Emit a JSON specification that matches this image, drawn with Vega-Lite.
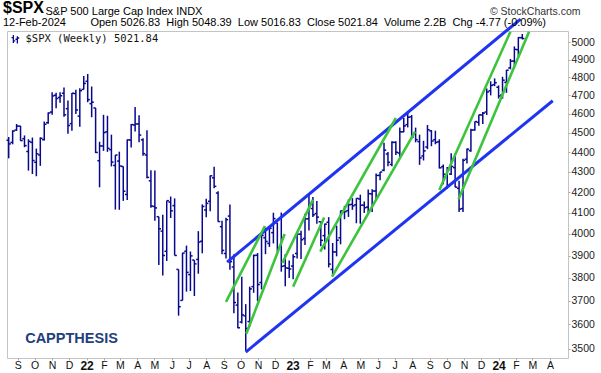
{
  "$schema": "https://vega.github.io/schema/vega-lite/v6.json",
  "width": 561,
  "height": 327,
  "autosize": {"type": "none"},
  "padding": {"left": 7, "top": 31, "right": 33, "bottom": 15},
  "background": "white",
  "config": {"font": "Liberation Sans", "view": {"stroke": "#c4c4c4", "strokeWidth": 1}},
  "title": {
    "text": "$SPX",
    "subtitle": "12-Feb-2024\u00a0\u00a0\u00a0\u00a0\u00a0\u00a0\u00a0\u00a0Open 5026.83\u00a0\u00a0High 5048.39\u00a0\u00a0Low 5016.83\u00a0\u00a0Close 5021.84\u00a0\u00a0Volume 2.2B\u00a0\u00a0Chg -4.77 (-0.09%)",
    "anchor": "start",
    "frame": "group",
    "dx": -4,
    "offset": -23,
    "font": "Liberation Sans",
    "fontSize": 16,
    "fontWeight": "bold",
    "color": "#000000",
    "subtitleFont": "Liberation Sans",
    "subtitleFontSize": 11,
    "subtitleColor": "#000000",
    "subtitlePadding": 1
  },
  "datasets": {
    "spx": [
      {"d": "2021-08-16", "o": 4461, "h": 4478, "l": 4368, "c": 4442},
      {"d": "2021-08-23", "o": 4450, "h": 4513, "l": 4440, "c": 4509},
      {"d": "2021-08-30", "o": 4514, "h": 4546, "l": 4510, "c": 4535},
      {"d": "2021-09-06", "o": 4535, "h": 4536, "l": 4458, "c": 4459},
      {"d": "2021-09-13", "o": 4469, "h": 4486, "l": 4425, "c": 4433},
      {"d": "2021-09-20", "o": 4403, "h": 4466, "l": 4306, "c": 4455},
      {"d": "2021-09-27", "o": 4450, "h": 4475, "l": 4289, "c": 4357},
      {"d": "2021-10-04", "o": 4348, "h": 4418, "l": 4278, "c": 4391},
      {"d": "2021-10-11", "o": 4385, "h": 4476, "l": 4330, "c": 4471},
      {"d": "2021-10-18", "o": 4464, "h": 4559, "l": 4459, "c": 4545},
      {"d": "2021-10-25", "o": 4553, "h": 4608, "l": 4547, "c": 4605},
      {"d": "2021-11-01", "o": 4610, "h": 4718, "l": 4596, "c": 4697},
      {"d": "2021-11-08", "o": 4701, "h": 4714, "l": 4630, "c": 4683},
      {"d": "2021-11-15", "o": 4689, "h": 4718, "l": 4660, "c": 4698},
      {"d": "2021-11-22", "o": 4712, "h": 4744, "l": 4585, "c": 4595},
      {"d": "2021-11-29", "o": 4628, "h": 4672, "l": 4495, "c": 4538},
      {"d": "2021-12-06", "o": 4548, "h": 4713, "l": 4510, "c": 4712},
      {"d": "2021-12-13", "o": 4710, "h": 4731, "l": 4600, "c": 4621},
      {"d": "2021-12-20", "o": 4588, "h": 4740, "l": 4531, "c": 4726},
      {"d": "2021-12-27", "o": 4733, "h": 4808, "l": 4733, "c": 4766},
      {"d": "2022-01-03", "o": 4778, "h": 4819, "l": 4663, "c": 4677},
      {"d": "2022-01-10", "o": 4655, "h": 4749, "l": 4582, "c": 4663},
      {"d": "2022-01-17", "o": 4632, "h": 4632, "l": 4395, "c": 4398},
      {"d": "2022-01-24", "o": 4356, "h": 4453, "l": 4223, "c": 4432},
      {"d": "2022-01-31", "o": 4431, "h": 4595, "l": 4406, "c": 4501},
      {"d": "2022-02-07", "o": 4505, "h": 4590, "l": 4401, "c": 4419},
      {"d": "2022-02-14", "o": 4412, "h": 4490, "l": 4327, "c": 4349},
      {"d": "2022-02-21", "o": 4332, "h": 4385, "l": 4115, "c": 4385},
      {"d": "2022-02-28", "o": 4354, "h": 4402, "l": 4114, "c": 4329},
      {"d": "2022-03-07", "o": 4327, "h": 4327, "l": 4157, "c": 4204},
      {"d": "2022-03-14", "o": 4188, "h": 4465, "l": 4161, "c": 4463},
      {"d": "2022-03-21", "o": 4462, "h": 4546, "l": 4424, "c": 4543},
      {"d": "2022-03-28", "o": 4541, "h": 4637, "l": 4507, "c": 4546},
      {"d": "2022-04-04", "o": 4547, "h": 4593, "l": 4451, "c": 4488},
      {"d": "2022-04-11", "o": 4463, "h": 4471, "l": 4381, "c": 4392},
      {"d": "2022-04-18", "o": 4385, "h": 4513, "l": 4268, "c": 4272},
      {"d": "2022-04-25", "o": 4255, "h": 4308, "l": 4124, "c": 4132},
      {"d": "2022-05-02", "o": 4130, "h": 4307, "l": 4062, "c": 4123},
      {"d": "2022-05-09", "o": 4081, "h": 4081, "l": 3858, "c": 4024},
      {"d": "2022-05-16", "o": 4013, "h": 4090, "l": 3811, "c": 3901},
      {"d": "2022-05-23", "o": 3920, "h": 4158, "l": 3876, "c": 4158},
      {"d": "2022-05-30", "o": 4151, "h": 4178, "l": 4075, "c": 4109},
      {"d": "2022-06-06", "o": 4134, "h": 4169, "l": 3901, "c": 3901},
      {"d": "2022-06-13", "o": 3838, "h": 3838, "l": 3637, "c": 3675},
      {"d": "2022-06-20", "o": 3702, "h": 3913, "l": 3702, "c": 3912},
      {"d": "2022-06-27", "o": 3920, "h": 3946, "l": 3740, "c": 3825},
      {"d": "2022-07-04", "o": 3815, "h": 3919, "l": 3743, "c": 3899},
      {"d": "2022-07-11", "o": 3880, "h": 3880, "l": 3721, "c": 3863},
      {"d": "2022-07-18", "o": 3883, "h": 4013, "l": 3819, "c": 3962},
      {"d": "2022-07-25", "o": 3966, "h": 4140, "l": 3911, "c": 4130},
      {"d": "2022-08-01", "o": 4113, "h": 4167, "l": 4079, "c": 4145},
      {"d": "2022-08-08", "o": 4155, "h": 4281, "l": 4107, "c": 4280},
      {"d": "2022-08-15", "o": 4270, "h": 4325, "l": 4218, "c": 4228},
      {"d": "2022-08-22", "o": 4195, "h": 4204, "l": 4057, "c": 4058},
      {"d": "2022-08-29", "o": 4034, "h": 4062, "l": 3906, "c": 3924},
      {"d": "2022-09-05", "o": 3910, "h": 4076, "l": 3887, "c": 4067},
      {"d": "2022-09-12", "o": 4084, "h": 4140, "l": 3837, "c": 3873},
      {"d": "2022-09-19", "o": 3849, "h": 3907, "l": 3647, "c": 3693},
      {"d": "2022-09-26", "o": 3682, "h": 3736, "l": 3584, "c": 3586},
      {"d": "2022-10-03", "o": 3610, "h": 3806, "l": 3604, "c": 3640},
      {"d": "2022-10-10", "o": 3636, "h": 3686, "l": 3491, "c": 3583},
      {"d": "2022-10-17", "o": 3612, "h": 3762, "l": 3591, "c": 3752},
      {"d": "2022-10-24", "o": 3762, "h": 3905, "l": 3735, "c": 3901},
      {"d": "2022-10-31", "o": 3902, "h": 3912, "l": 3699, "c": 3771},
      {"d": "2022-11-07", "o": 3780, "h": 4000, "l": 3750, "c": 3993},
      {"d": "2022-11-14", "o": 3982, "h": 4029, "l": 3907, "c": 3965},
      {"d": "2022-11-21", "o": 3956, "h": 4034, "l": 3940, "c": 4026},
      {"d": "2022-11-28", "o": 4006, "h": 4100, "l": 3956, "c": 4072},
      {"d": "2022-12-05", "o": 4052, "h": 4052, "l": 3918, "c": 3934},
      {"d": "2022-12-12", "o": 3940, "h": 4101, "l": 3828, "c": 3852},
      {"d": "2022-12-19", "o": 3854, "h": 3906, "l": 3764, "c": 3845},
      {"d": "2022-12-26", "o": 3843, "h": 3878, "l": 3800, "c": 3840},
      {"d": "2023-01-02", "o": 3853, "h": 3907, "l": 3794, "c": 3895},
      {"d": "2023-01-09", "o": 3910, "h": 4003, "l": 3887, "c": 3999},
      {"d": "2023-01-16", "o": 3999, "h": 4015, "l": 3885, "c": 3973},
      {"d": "2023-01-23", "o": 3979, "h": 4095, "l": 3949, "c": 4071},
      {"d": "2023-01-30", "o": 4071, "h": 4195, "l": 4016, "c": 4136},
      {"d": "2023-02-06", "o": 4120, "h": 4176, "l": 4080, "c": 4090},
      {"d": "2023-02-13", "o": 4096, "h": 4156, "l": 4048, "c": 4079},
      {"d": "2023-02-20", "o": 4057, "h": 4057, "l": 3943, "c": 3970},
      {"d": "2023-02-27", "o": 3992, "h": 4048, "l": 3928, "c": 4046},
      {"d": "2023-03-06", "o": 4055, "h": 4079, "l": 3847, "c": 3862},
      {"d": "2023-03-13", "o": 3838, "h": 3958, "l": 3808, "c": 3917},
      {"d": "2023-03-20", "o": 3917, "h": 4039, "l": 3897, "c": 3971},
      {"d": "2023-03-27", "o": 3982, "h": 4110, "l": 3952, "c": 4109},
      {"d": "2023-04-03", "o": 4102, "h": 4133, "l": 4069, "c": 4105},
      {"d": "2023-04-10", "o": 4110, "h": 4164, "l": 4080, "c": 4138},
      {"d": "2023-04-17", "o": 4140, "h": 4170, "l": 4114, "c": 4133},
      {"d": "2023-04-24", "o": 4138, "h": 4170, "l": 4050, "c": 4169},
      {"d": "2023-05-01", "o": 4166, "h": 4187, "l": 4048, "c": 4136},
      {"d": "2023-05-08", "o": 4136, "h": 4154, "l": 4099, "c": 4124},
      {"d": "2023-05-15", "o": 4127, "h": 4212, "l": 4099, "c": 4192},
      {"d": "2023-05-22", "o": 4191, "h": 4213, "l": 4103, "c": 4205},
      {"d": "2023-05-29", "o": 4205, "h": 4291, "l": 4166, "c": 4282},
      {"d": "2023-06-05", "o": 4282, "h": 4299, "l": 4258, "c": 4299},
      {"d": "2023-06-12", "o": 4308, "h": 4448, "l": 4303, "c": 4410},
      {"d": "2023-06-19", "o": 4390, "h": 4400, "l": 4328, "c": 4348},
      {"d": "2023-06-26", "o": 4337, "h": 4456, "l": 4328, "c": 4450},
      {"d": "2023-07-03", "o": 4450, "h": 4456, "l": 4385, "c": 4399},
      {"d": "2023-07-10", "o": 4395, "h": 4528, "l": 4371, "c": 4505},
      {"d": "2023-07-17", "o": 4505, "h": 4578, "l": 4503, "c": 4536},
      {"d": "2023-07-24", "o": 4543, "h": 4607, "l": 4528, "c": 4582},
      {"d": "2023-07-31", "o": 4584, "h": 4594, "l": 4468, "c": 4478},
      {"d": "2023-08-07", "o": 4492, "h": 4527, "l": 4450, "c": 4464},
      {"d": "2023-08-14", "o": 4454, "h": 4490, "l": 4335, "c": 4370},
      {"d": "2023-08-21", "o": 4380, "h": 4458, "l": 4357, "c": 4406},
      {"d": "2023-08-28", "o": 4426, "h": 4541, "l": 4415, "c": 4516},
      {"d": "2023-09-04", "o": 4510, "h": 4514, "l": 4430, "c": 4457},
      {"d": "2023-09-11", "o": 4464, "h": 4511, "l": 4440, "c": 4450},
      {"d": "2023-09-18", "o": 4453, "h": 4466, "l": 4317, "c": 4320},
      {"d": "2023-09-25", "o": 4326, "h": 4337, "l": 4238, "c": 4288},
      {"d": "2023-10-02", "o": 4284, "h": 4324, "l": 4216, "c": 4309},
      {"d": "2023-10-09", "o": 4289, "h": 4394, "l": 4284, "c": 4327},
      {"d": "2023-10-16", "o": 4321, "h": 4393, "l": 4223, "c": 4224},
      {"d": "2023-10-23", "o": 4218, "h": 4256, "l": 4104, "c": 4117},
      {"d": "2023-10-30", "o": 4120, "h": 4366, "l": 4104, "c": 4358},
      {"d": "2023-11-06", "o": 4364, "h": 4418, "l": 4342, "c": 4415},
      {"d": "2023-11-13", "o": 4407, "h": 4521, "l": 4402, "c": 4514},
      {"d": "2023-11-20", "o": 4515, "h": 4560, "l": 4511, "c": 4559},
      {"d": "2023-11-27", "o": 4555, "h": 4595, "l": 4537, "c": 4595},
      {"d": "2023-12-04", "o": 4594, "h": 4610, "l": 4546, "c": 4604},
      {"d": "2023-12-11", "o": 4610, "h": 4738, "l": 4594, "c": 4719},
      {"d": "2023-12-18", "o": 4725, "h": 4778, "l": 4700, "c": 4755},
      {"d": "2023-12-25", "o": 4759, "h": 4794, "l": 4751, "c": 4770},
      {"d": "2024-01-01", "o": 4745, "h": 4755, "l": 4683, "c": 4697},
      {"d": "2024-01-08", "o": 4703, "h": 4803, "l": 4682, "c": 4784},
      {"d": "2024-01-15", "o": 4772, "h": 4842, "l": 4714, "c": 4840},
      {"d": "2024-01-22", "o": 4853, "h": 4904, "l": 4845, "c": 4891},
      {"d": "2024-01-29", "o": 4892, "h": 4976, "l": 4853, "c": 4959},
      {"d": "2024-02-05", "o": 4957, "h": 5030, "l": 4918, "c": 5027},
      {"d": "2024-02-12", "o": 5026.83, "h": 5048.39, "l": 5016.83, "c": 5021.84}
    ],
    "blue": [
      {"id": "upper", "d": "2022-09-07", "p": 3871},
      {"id": "upper", "d": "2024-02-09", "p": 5137},
      {"id": "lower", "d": "2022-10-10", "p": 3486},
      {"id": "lower", "d": "2024-04-06", "p": 4671}
    ],
    "green": [
      {"id": "g1", "d": "2022-09-05", "p": 3696},
      {"id": "g1", "d": "2022-11-13", "p": 4037},
      {"id": "g2", "d": "2022-10-11", "p": 3561},
      {"id": "g2", "d": "2022-12-18", "p": 4000},
      {"id": "g3", "d": "2022-12-14", "p": 3867},
      {"id": "g3", "d": "2023-02-06", "p": 4162},
      {"id": "g4", "d": "2023-01-02", "p": 3762},
      {"id": "g4", "d": "2023-02-26", "p": 4077},
      {"id": "g5", "d": "2023-02-19", "p": 3918},
      {"id": "g5", "d": "2023-07-03", "p": 4578},
      {"id": "g6", "d": "2023-03-12", "p": 3806},
      {"id": "g6", "d": "2023-08-06", "p": 4506},
      {"id": "g7", "d": "2023-09-18", "p": 4210},
      {"id": "g7", "d": "2024-01-22", "p": 5062},
      {"id": "g8", "d": "2023-10-22", "p": 4165},
      {"id": "g8", "d": "2024-02-24", "p": 5062}
    ]
  },
  "layer": [
    {
      "data": {"name": "spx"},
      "encoding": {
        "x": {
          "field": "d",
          "type": "temporal",
          "scale": {"domain": [{"year": 2021, "month": 8, "date": 13}, {"year": 2024, "month": 5, "date": 3}]},
          "axis": {
            "orient": "bottom",
            "values": [
              {"year": 2021, "month": 9, "date": 1}, {"year": 2021, "month": 10, "date": 1}, {"year": 2021, "month": 11, "date": 1}, {"year": 2021, "month": 12, "date": 1},
              {"year": 2022, "month": 1, "date": 1}, {"year": 2022, "month": 2, "date": 1}, {"year": 2022, "month": 3, "date": 1}, {"year": 2022, "month": 4, "date": 1},
              {"year": 2022, "month": 5, "date": 1}, {"year": 2022, "month": 6, "date": 1}, {"year": 2022, "month": 7, "date": 1}, {"year": 2022, "month": 8, "date": 1},
              {"year": 2022, "month": 9, "date": 1}, {"year": 2022, "month": 10, "date": 1}, {"year": 2022, "month": 11, "date": 1}, {"year": 2022, "month": 12, "date": 1},
              {"year": 2023, "month": 1, "date": 1}, {"year": 2023, "month": 2, "date": 1}, {"year": 2023, "month": 3, "date": 1}, {"year": 2023, "month": 4, "date": 1},
              {"year": 2023, "month": 5, "date": 1}, {"year": 2023, "month": 6, "date": 1}, {"year": 2023, "month": 7, "date": 1}, {"year": 2023, "month": 8, "date": 1},
              {"year": 2023, "month": 9, "date": 1}, {"year": 2023, "month": 10, "date": 1}, {"year": 2023, "month": 11, "date": 1}, {"year": 2023, "month": 12, "date": 1},
              {"year": 2024, "month": 1, "date": 1}, {"year": 2024, "month": 2, "date": 1}, {"year": 2024, "month": 3, "date": 1}, {"year": 2024, "month": 4, "date": 1}
            ],
            "labelExpr": "month(datum.value) == 0 ? timeFormat(datum.value, '%y') : substring(timeFormat(datum.value, '%b'), 0, 1)",
            "labelFont": "Liberation Sans",
            "labelFontSize": {"condition": {"test": "month(datum.value) == 0", "value": 12}, "value": 10.5},
            "labelFontWeight": {"condition": {"test": "month(datum.value) == 0", "value": "bold"}, "value": "normal"},
            "labelColor": "#111111",
            "labelOverlap": false,
            "labelFlush": false,
            "labelPadding": 0,
            "tickSize": 2,
            "tickColor": "#aaaaaa",
            "domain": false,
            "grid": false,
            "title": "CAPPTHESIS",
            "titleX": 64,
            "titleY": -16,
            "titleAlign": "center",
            "titleAnchor": null,
            "titleBaseline": "alphabetic",
            "titleFont": "Liberation Sans",
            "titleFontSize": 14.5,
            "titleFontWeight": "bold",
            "titleColor": "#24407c"
          }
        }
      },
      "layer": [
        {
          "mark": {"type": "rule", "strokeWidth": 1.5},
          "encoding": {
            "y": {
              "field": "l",
              "type": "quantitative",
              "scale": {"type": "log", "domain": [3462, 5066], "nice": false},
              "axis": {
                "orient": "right",
                "values": [3500, 3600, 3700, 3800, 3900, 4000, 4100, 4200, 4300, 4400, 4500, 4600, 4700, 4800, 4900, 5000],
                "format": "d",
                "labelFont": "Liberation Sans",
                "labelFontSize": 10.5,
                "labelColor": "#222222",
                "labelOverlap": false,
                "labelFlush": false,
                "labelPadding": 1,
                "tickSize": 2,
                "tickColor": "#aaaaaa",
                "domain": false,
                "grid": false,
                "title": "© StockCharts.com",
                "titleAngle": 0,
                "titleX": 12,
                "titleY": -17,
                "titleAlign": "right",
                "titleBaseline": "alphabetic",
                "titleFont": "Liberation Sans",
                "titleFontSize": 10.5,
                "titleFontWeight": "normal",
                "titleColor": "#333333"
              }
            },
            "y2": {"field": "h"},
            "color": {
              "datum": "$SPX (Weekly) 5021.84",
              "type": "nominal",
              "scale": {"range": ["#08088f"]},
              "legend": {
                "title": null,
                "orient": "top-left",
                "offset": 2,
                "padding": 1,
                "labelFont": "DejaVu Sans Mono",
                "labelFontSize": 10.5,
                "labelColor": "#111111",
                "labelOffset": 5,
                "symbolType": "M-0.45,-1V0.9M-0.9,-0.4H-0.45M-0.45,0.4H0M0.5,-0.7V1M0.05,0H0.5M0.5,-0.3H0.95",
                "symbolSize": 70,
                "symbolStrokeWidth": 1.3,
                "symbolStrokeColor": "#2a3cd6",
                "symbolFillColor": "transparent"
              }
            }
          }
        },
        {
          "mark": {"type": "rule", "strokeWidth": 1.5, "color": "#08088f", "xOffset": -2.2, "x2Offset": 0},
          "encoding": {
            "x2": {"field": "d"},
            "y": {"field": "o", "type": "quantitative", "scale": {"type": "log", "domain": [3462, 5066], "nice": false}, "axis": null}
          }
        },
        {
          "mark": {"type": "rule", "strokeWidth": 1.5, "color": "#08088f", "xOffset": 0, "x2Offset": 2.2},
          "encoding": {
            "x2": {"field": "d"},
            "y": {"field": "c", "type": "quantitative", "scale": {"type": "log", "domain": [3462, 5066], "nice": false}, "axis": null}
          }
        }
      ],
      "resolve": {"axis": {"y": "independent"}}
    },
    {
      "encoding": {
        "x": {
          "field": "d",
          "type": "temporal",
          "scale": {"domain": [{"year": 2021, "month": 8, "date": 13}, {"year": 2024, "month": 5, "date": 3}]},
          "axis": {
            "orient": "top",
            "labels": false,
            "ticks": false,
            "domain": false,
            "grid": false,
            "title": "S&P 500 Large Cap Index INDX",
            "titleX": 38,
            "titleY": -17,
            "titleAlign": "left",
            "titleAnchor": null,
            "titleBaseline": "alphabetic",
            "titleFont": "Liberation Sans",
            "titleFontSize": 11,
            "titleFontWeight": "normal",
            "titleColor": "#000000"
          }
        },
        "y": {"field": "p", "type": "quantitative", "scale": {"type": "log", "domain": [3462, 5066], "nice": false}, "axis": null}
      },
      "layer": [
        {
          "data": {"name": "blue"},
          "mark": {"type": "line", "color": "#1f34f0", "strokeWidth": 3, "clip": false},
          "encoding": {"detail": {"field": "id"}}
        },
        {
          "data": {"name": "green"},
          "mark": {"type": "line", "color": "#3cc43c", "strokeWidth": 2.6, "clip": false},
          "encoding": {"detail": {"field": "id"}}
        }
      ]
    }
  ],
  "resolve": {"axis": {"x": "independent", "y": "independent"}}
}
